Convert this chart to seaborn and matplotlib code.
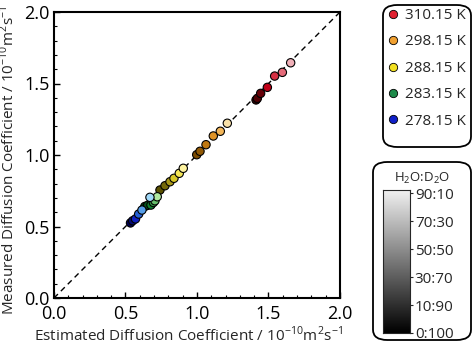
import numpy as np
import pandas as pd
import matplotlib
matplotlib.use("Agg")
import matplotlib.pyplot as plt
import seaborn as sns
from matplotlib.colors import LinearSegmentedColormap
from matplotlib.patches import FancyBboxPatch
from matplotlib.lines import Line2D

# ---- data ----
temps = ["310.15 K", "298.15 K", "288.15 K", "283.15 K", "278.15 K"]
# H2O percentage of each point (sets its shade)
ratio_310 = [0, 5, 10, 30, 50, 70, 90]
est_310 = [1.413, 1.422, 1.445, 1.492, 1.543, 1.597, 1.655]
meas_310 = [1.385, 1.396, 1.431, 1.473, 1.552, 1.578, 1.645]

ratio_298 = [0, 10, 30, 50, 70, 90]
est_298 = [0.998, 1.021, 1.063, 1.114, 1.163, 1.212]
meas_298 = [1.002, 1.026, 1.072, 1.133, 1.166, 1.222]

ratio_288 = [0, 10, 30, 50, 70, 90]
est_288 = [0.741, 0.776, 0.811, 0.839, 0.876, 0.904]
meas_288 = [0.755, 0.785, 0.813, 0.837, 0.872, 0.907]

ratio_283 = [0, 10, 30, 50, 70, 90]
est_283 = [0.635, 0.655, 0.678, 0.695, 0.706, 0.722]
meas_283 = [0.640, 0.648, 0.650, 0.668, 0.680, 0.708]

ratio_278 = [0, 10, 30, 50, 70, 90]
est_278 = [0.535, 0.550, 0.570, 0.592, 0.615, 0.671]
meas_278 = [0.525, 0.540, 0.553, 0.587, 0.615, 0.704]

cbar_labels = ["0:100", "10:90", "30:70", "50:50", "70:30", "90:10"]

# ---- styles ----
legend_colors = ["#e02030", "#f0a030", "#f2e020", "#1e8a4a", "#1020c8"]
ramps = [
    ["#3a0000", "#c00018", "#e04858", "#f0b0b8"],
    ["#7a4a00", "#c07810", "#f0a030", "#f8e0a8"],
    ["#5a5000", "#a89818", "#f0e030", "#fff4a0"],
    ["#003a10", "#108030", "#40a850", "#b0e8a0"],
    ["#000050", "#1020c0", "#3080e0", "#a0d8f8"],
]

rows = []
groups = [(ratio_310, est_310, meas_310), (ratio_298, est_298, meas_298),
          (ratio_288, est_288, meas_288), (ratio_283, est_283, meas_283),
          (ratio_278, est_278, meas_278)]
for t, (r, e, m) in zip(temps, groups):
    for ri, ei, mi in zip(r, e, m):
        rows.append({"temp": t, "ratio": ri, "est": ei, "meas": mi})
df = pd.DataFrame(rows)

sns.set_style("white")
plt.rcParams["font.family"] = ["Open Sans", "DejaVu Sans"]
plt.rcParams["mathtext.fontset"] = "custom"
plt.rcParams["mathtext.rm"] = "Open Sans"

fig = plt.figure(figsize=(4.74, 3.44), dpi=100)
W, H = 474, 344
ax = fig.add_axes([54 / W, 1 - 298 / H, 286 / W, 286 / H])

ax.plot([0, 2], [0, 2], ls=(0, (4, 3)), color="black", lw=1.0, zorder=1)

for t, ramp in zip(temps, ramps):
    sub = df[df["temp"] == t]
    cmap = LinearSegmentedColormap.from_list(t, ramp)
    cols = [cmap(v / 90) for v in sub["ratio"]]
    sns.scatterplot(data=sub, x="est", y="meas", hue="ratio",
                    palette=dict(zip(sub["ratio"], cols)), s=36,
                    edgecolor="black", linewidth=0.8, legend=False, ax=ax, zorder=3)

ax.set_xlim(0, 2)
ax.set_ylim(0, 2)
ax.set_xticks([0, 0.5, 1.0, 1.5, 2.0])
ax.set_yticks([0, 0.5, 1.0, 1.5, 2.0])
ax.set_xticklabels(["0.0", "0.5", "1.0", "1.5", "2.0"])
ax.set_yticklabels(["0.0", "0.5", "1.0", "1.5", "2.0"])
ax.set_xticks(np.arange(0, 2.01, 0.1), minor=True)
ax.set_yticks(np.arange(0, 2.01, 0.1), minor=True)
ax.tick_params(which="both", direction="in", top=False, right=False,
               bottom=True, left=True, colors="black")
ax.tick_params(which="major", length=4, width=1.0, labelsize=13)
ax.tick_params(axis="x", which="major", pad=5)
ax.tick_params(axis="y", which="major", pad=3)
ax.tick_params(which="minor", length=2.5, width=0.8)
for sp in ax.spines.values():
    sp.set_linewidth(1.5)
    sp.set_color("black")
ax.set_xlabel(r"Estimated Diffusion Coefficient / 10$^{-10}$m$^{2}$s$^{-1}$",
              fontsize=11)
ax.set_ylabel(r"Measured Diffusion Coefficient / 10$^{-10}$m$^{2}$s$^{-1}$",
              fontsize=11)
ax.xaxis.set_label_coords(0.472, -0.097)
ax.yaxis.set_label_coords(-0.125, 0.483)

# ---- legend box ----
box1 = FancyBboxPatch((383 / W, 1 - 147 / H), 88 / W, 142 / H,
                      boxstyle="round,pad=0,rounding_size=0.03",
                      transform=fig.transFigure, fc="white", ec="black", lw=1.3,
                      zorder=-2)
fig.patches.append(box1)
handles = [Line2D([], [], marker="o", ls="none", markersize=6,
                  markerfacecolor=c, markeredgecolor="black", markeredgewidth=0.6)
           for c in legend_colors]
fig.legend(handles, temps, loc="upper left", bbox_to_anchor=(385 / W, 1 - 8 / H),
           frameon=False, fontsize=11, handletextpad=0.3, labelspacing=0.75,
           handlelength=1.0, borderaxespad=0, borderpad=0)

# ---- colorbar box ----
box2 = FancyBboxPatch((373 / W, 1 - 340 / H), 98 / W, 178 / H,
                      boxstyle="round,pad=0,rounding_size=0.03",
                      transform=fig.transFigure, fc="white", ec="black", lw=1.3,
                      zorder=-2)
fig.patches.append(box2)
cax = fig.add_axes([383 / W, 1 - 333 / H, 27 / W, 143 / H])
cax.set_zorder(5)
grad = np.linspace(0, 1, 256).reshape(-1, 1)
gcmap = LinearSegmentedColormap.from_list("g", ["#000000", "#f2f2f2"])
cax.imshow(grad, aspect="auto", cmap=gcmap, origin="lower", extent=[0, 1, 0, 5.12])
cax.set_xlim(0, 1)
cax.set_ylim(0, 5.12)
cax.set_xticks([])
cax.set_yticks(np.arange(len(cbar_labels)))
cax.set_yticklabels(cbar_labels)
cax.yaxis.tick_right()
cax.tick_params(axis="y", direction="out", length=2.5, width=0.8, labelsize=11, pad=1)
for sp in cax.spines.values():
    sp.set_linewidth(0.8)
fig.text(422 / W, 1 - 178 / H, r"H$_2$O:D$_2$O", ha="center", va="center", fontsize=9.5)

fig.savefig("out.png", dpi=100)
